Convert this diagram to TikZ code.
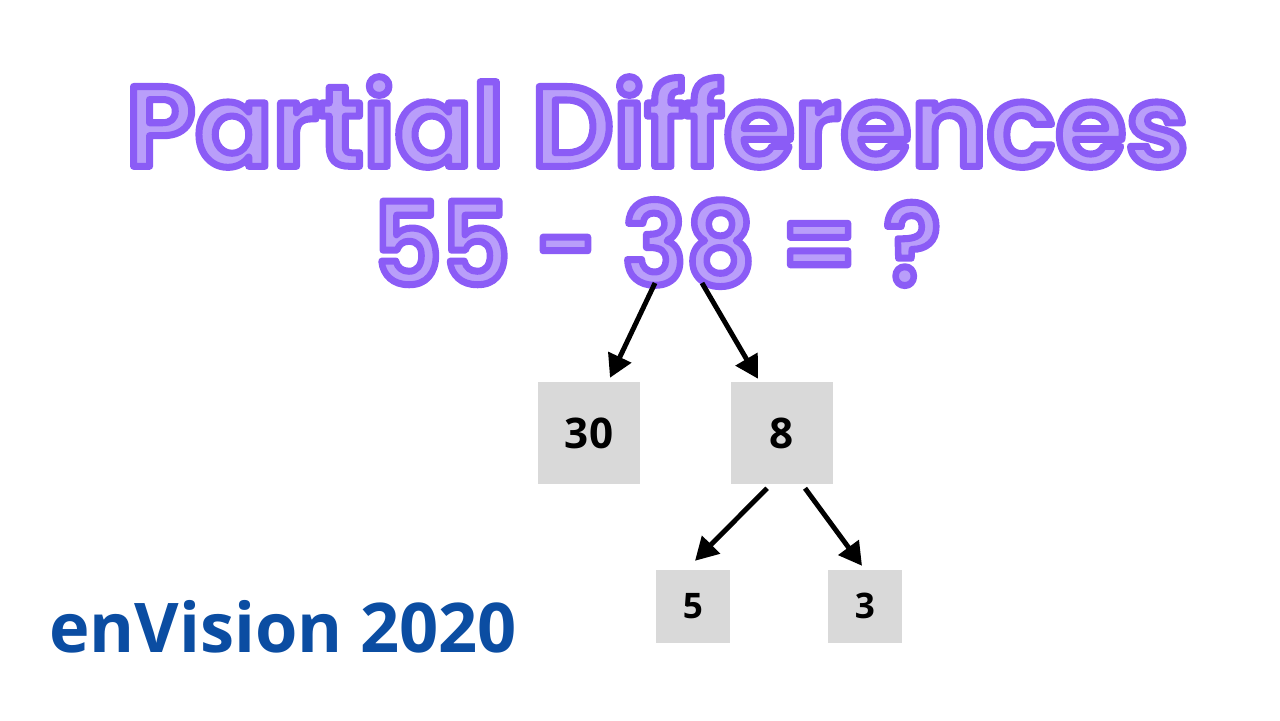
\documentclass[tikz,border=0pt]{standalone}
\usepackage{fontspec}
\usetikzlibrary{arrows.meta,calc,positioning}
\setmainfont{Open Sans}
\newfontfamily\titlefont{Poppins}[UprightFont=* SemiBold]
\definecolor{titleline}{RGB}{139,92,246}
\definecolor{titlefill}{RGB}{185,158,250}
\definecolor{boxgray}{RGB}{217,217,217}
\definecolor{envblue}{RGB}{11,77,162}
\tikzset{
  title/.style={font=\titlefont\fontsize{32.5}{34}\selectfont, inner sep=0pt, text=titlefill},
  bigbox/.style={fill=boxgray, minimum width=1.02cm, minimum height=1.01cm, inner sep=0pt, font=\bfseries\fontsize{12}{12}\selectfont},
  smallbox/.style={fill=boxgray, minimum width=0.74cm, minimum height=0.73cm, inner sep=0pt, font=\bfseries\fontsize{10}{10}\selectfont},
  arr/.style={-{Triangle[length=6.5pt,width=7pt]}, line width=1.4pt}
}
% outlined title text: fill + stroke render mode
\newcommand{\purpletext}[1]{\special{pdf:literal direct 2 Tr 2 w 1 j 0.545 0.361 0.965 RG}#1\special{pdf:literal direct 0 Tr}}
\begin{document}
\begin{tikzpicture}[x=0.01cm, y=-0.01cm]
  \useasboundingbox (0,0) rectangle (1280,720);

  \node[title] (head) at (657,122) {\purpletext{Partial Differences}};
  \node[title] (sum) at (657,243) {\scalebox{0.93}[1]{\purpletext{55 - 38 = ?}}};

  \coordinate (from3) at (655,283);
  \coordinate (from8) at (702,283);

  \node[bigbox] (box30) at (589,433) {30};
  \node[bigbox] (box8) at (782,433) {8};
  \node[smallbox] (box5) at (693,606) {5};
  \node[smallbox] (box3) at (865,606) {3};

  \draw[arr] (from3) -- ($(box30.north)+(21,-4)$);
  \draw[arr] (from8) -- ($(box8.north)+(-24,-3)$);
  \draw[arr] ($(box8.south)+(-15,4)$) -- ($(box5.north)+(2,-8)$);
  \draw[arr] ($(box8.south)+(23,4)$) -- ($(box3.north)+(-3,-3)$);

  \node[text=envblue, font=\bfseries\fontsize{19.5}{20}\selectfont] (brand) at (283,627) {enVision 2020};
\end{tikzpicture}
\end{document}
